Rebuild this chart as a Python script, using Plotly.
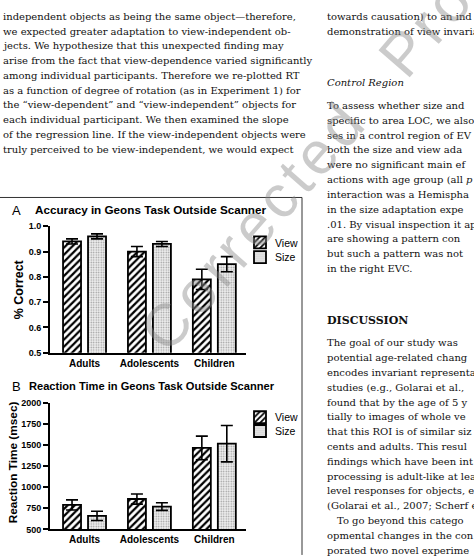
import plotly.graph_objects as go

# ---------------- data ----------------
groups = ["Adults", "Adolescents", "Children"]
acc_view = [0.94, 0.90, 0.79]
acc_view_err = [0.01, 0.02, 0.04]
acc_size = [0.96, 0.93, 0.85]
acc_size_err = [0.01, 0.01, 0.03]
rt_view = [790, 860, 1465]
rt_view_err = [60, 60, 140]
rt_size = [660, 770, 1515]
rt_size_err = [55, 45, 215]
acc_ticks = [0.5, 0.6, 0.7, 0.8, 0.9, 1.0]
acc_ticklabels = ["0.5", "0.6", "0.7", "0.8", "0.9", "1.0"]
rt_ticks = [500, 750, 1000, 1250, 1500, 1750, 2000]
rt_ticklabels = ["500", "750", "1000", "1250", "1500", "1750", "2000"]
series_names = ["View", "Size"]

col1_lines = [
    "independent objects as being the same object\u2014therefore,",
    "we expected greater adaptation to view-independent ob-",
    "jects. We hypothesize that this unexpected finding may",
    "arise from the fact that view-dependence varied significantly",
    "among individual participants. Therefore we re-plotted RT",
    "as a function of degree of rotation (as in Experiment 1) for",
    "the \u201cview-dependent\u201d and \u201cview-independent\u201d objects for",
    "each individual participant. We then examined the slope",
    "of the regression line. If the view-independent objects were",
    "truly perceived to be view-independent, we would expect",
]
col2_top = [
    "towards causation) to an ind",
    "demonstration of view invaria",
]
col2_control = [
    "To assess whether size and",
    "specific to area LOC, we also",
    "ses in a control region of EV",
    "both the size and view ada",
    "were no significant main ef",
    "actions with age group (all <i>p</i>",
    "interaction was a Hemispha",
    "in the size adaptation expe",
    ".01. By visual inspection it ap",
    "are showing a pattern con",
    "but such a pattern was not",
    "in the right EVC.",
]
col2_disc = [
    "The goal of our study was",
    "potential age-related chang",
    "encodes invariant representa",
    "studies (e.g., Golarai et al.,",
    "found that by the age of 5 y",
    "tially to images of whole ve",
    "that this ROI is of similar siz",
    "cents and adults. This resul",
    "findings which have been int",
    "processing is adult-like at leas",
    "level responses for objects, e",
    "(Golarai et al., 2007; Scherf e",
    "\u2003To go beyond this catego",
    "opmental changes in the con",
    "porated two novel experime",
]
watermark_words = ["Corrected", "Proof"]

W, H = 474, 557
def px(x):
    return x / W
def py(y):
    return 1 - y / H

fig = go.Figure()

view_marker = dict(color="white", line=dict(color="black", width=1.8),
                   pattern=dict(shape="/", size=5, solidity=0.45,
                                fgcolor="black", bgcolor="white", fillmode="replace"))
size_marker = dict(color="#e8e8e8", line=dict(color="black", width=1.8),
                   pattern=dict(shape=".", size=2.5, solidity=0.28,
                                fgcolor="#a0a0a0", bgcolor="#f0f0f0", fillmode="replace"))
err = lambda a: dict(type="data", array=a, color="black", thickness=1.6, width=6)

fig.add_trace(go.Bar(x=groups, y=acc_view, name=series_names[0], marker=view_marker,
                     error_y=err(acc_view_err), xaxis="x", yaxis="y", legend="legend"))
fig.add_trace(go.Bar(x=groups, y=acc_size, name=series_names[1], marker=size_marker,
                     error_y=err(acc_size_err), xaxis="x", yaxis="y", legend="legend2"))
fig.add_trace(go.Bar(x=groups, y=rt_view, name=series_names[0], marker=view_marker,
                     error_y=err(rt_view_err), xaxis="x2", yaxis="y2", legend="legend3"))
fig.add_trace(go.Bar(x=groups, y=rt_size, name=series_names[1], marker=size_marker,
                     error_y=err(rt_size_err), xaxis="x2", yaxis="y2", legend="legend4"))

sans = "Liberation Sans, Arial, sans-serif"
serif = "DejaVu Serif, serif"

xcommon = dict(type="category", range=[-0.532, 2.488], showline=True, linecolor="black",
               linewidth=1.8, ticks="", showgrid=False, zeroline=False,
               tickfont=dict(family=sans, size=10, color="black", weight="bold"))
ycommon = dict(showline=True, linecolor="black", linewidth=1.8, ticks="outside",
               ticklen=5, tickwidth=1.6, tickcolor="black", showgrid=False, zeroline=False,
               tickfont=dict(family=sans, size=9, color="black", weight="bold"))

def leg(center_y):
    return dict(x=px(240), y=py(center_y - 15), xanchor="left", yanchor="top",
                bgcolor="rgba(0,0,0,0)",
                font=dict(family=sans, size=1, color="rgba(0,0,0,0)"),
                itemwidth=30)

fig.update_layout(
    width=W, height=H, margin=dict(l=0, r=0, t=0, b=0),
    paper_bgcolor="white", plot_bgcolor="rgba(0,0,0,0)",
    barmode="group", bargap=0.23, bargroupgap=0.28,
    xaxis=dict(domain=[px(50), px(246)], anchor="y", **xcommon),
    yaxis=dict(domain=[py(354), py(225.3)], anchor="x", range=[0.5, 1.0],
               tickvals=acc_ticks, ticktext=acc_ticklabels, **ycommon),
    xaxis2=dict(domain=[px(50), px(246)], anchor="y2", **xcommon),
    yaxis2=dict(domain=[py(534), py(405)], anchor="x2", range=[500, 2000],
                tickvals=rt_ticks, ticktext=rt_ticklabels, **ycommon),
    legend=leg(242), legend2=leg(257), legend3=leg(420), legend4=leg(434),
    showlegend=True,
)

ann = []
def add(text, x, y, size, family=sans, xanchor="left", bold=False, italic=False,
        color="black", angle=0, yanchor="middle"):
    ann.append(dict(text=text, x=px(x), y=py(y), xref="paper", yref="paper",
                    xanchor=xanchor, yanchor=yanchor, showarrow=False, textangle=angle,
                    font=dict(family=family, size=size, color=color,
                              weight="bold" if bold else "normal",
                              style="italic" if italic else "normal")))

# chart titles
add("A", 10, 209, 13)
add("Accuracy in Geons Task Outside Scanner", 33, 208, 11.7, bold=True)
add("B", 10, 388, 13)
add("Reaction Time in Geons Task Outside Scanner", 27, 388, 11.1, bold=True)
add("% Correct", 19, 289.5, 12.5, bold=True, xanchor="center", angle=-90)
add("Reaction Time (msec)", 12.7, 466, 11.8, bold=True, xanchor="center", angle=-90)
# legend labels
for yy, nm in zip([242, 257, 420, 434], series_names * 2):
    add(nm, 272.5, yy, 10.5)

# page text
tc = "#111111"
fs = 10
for i, t in enumerate(col1_lines):
    add(t, 1, 11.7 + 15.0 * i, fs, family=serif, color=tc)
for i, t in enumerate(col2_top):
    add(t, 325, 11.7 + 15.0 * i, fs, family=serif, color=tc)
add("Control Region", 325, 79, fs, family=serif, italic=True, color=tc)
for i, t in enumerate(col2_control):
    add(t, 325, 102.3 + 15.1 * i, fs, family=serif, color=tc)
add("DISCUSSION", 325, 321, 11, family=serif, bold=True, color=tc)
for i, t in enumerate(col2_disc):
    add(t, 325, 344 + 15.08 * i, fs, family=serif, color=tc)

# watermark (slightly letter-spaced)
wm = ("\u200a".join(watermark_words[0]) + "\u2003" + "\u200a".join(watermark_words[1]))
ann.append(dict(text=wm, x=px(325), y=py(141), xref="paper", yref="paper",
                xanchor="center", yanchor="middle", showarrow=False, textangle=-49,
                font=dict(family=sans, size=60, color="rgba(140,140,140,0.45)")))

fig.update_layout(annotations=ann)

fig.update_layout(shapes=[
    dict(type="line", xref="paper", yref="paper", x0=px(-2), x1=px(302), y0=py(196), y1=py(196),
         line=dict(color="#333333", width=1)),
    dict(type="line", xref="paper", yref="paper", x0=px(302), x1=px(302), y0=py(196), y1=py(560),
         line=dict(color="#333333", width=1)),
])

fig.write_html("out.html", config={"displayModeBar": False},
               post_script="document.body.style.margin='0';")
